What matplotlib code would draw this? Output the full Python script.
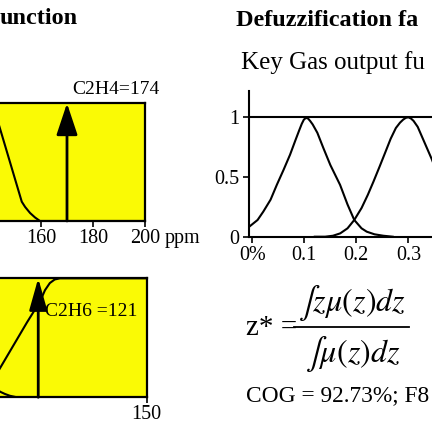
import numpy as np
import matplotlib
matplotlib.use("Agg")
import matplotlib.pyplot as plt
from matplotlib.lines import Line2D

plt.rcParams['font.family'] = ['Liberation Serif', 'DejaVu Serif']
plt.rcParams['mathtext.fontset'] = 'stix'

# input membership curves (ppm, membership)
c2h4_x = [130, 141.3, 144.2, 148.4, 152.6, 153.9, 155.8, 157.7, 159.6, 200]
c2h4_mu = [1, 1, 0.788, 0.476, 0.164, 0.119, 0.068, 0.03, 0.0, 0.0]
c2h4_arrow = 170
c2h4_ticks = [160, 180, 200]

c2h6_rise_x = [106.1, 110.8, 115, 118, 120.9, 122.1, 122.8, 124.1, 125.4, 126.8, 150]
c2h6_rise_mu = [0, 0.246, 0.47, 0.63, 0.776, 0.85, 0.90, 0.96, 0.99, 1.0, 1.0]
c2h6_fall_x = [109.5, 110.8, 112.1, 113.4, 115.3, 150]
c2h6_fall_mu = [0.08, 0.047, 0.028, 0.013, 0.0, 0.0]
c2h6_arrow = 121
c2h6_ticks = [150]

# key gas output membership curves
out1_x = [-0.006, 0.01, 0.021, 0.035, 0.047, 0.06, 0.0725, 0.083, 0.09, 0.095, 0.099, 0.103,
          0.107, 0.111, 0.116, 0.125, 0.1365, 0.15, 0.1687, 0.183, 0.196, 0.21, 0.22, 0.235,
          0.252, 0.27]
out1_y = [0.084, 0.14, 0.21, 0.31, 0.434, 0.56, 0.687, 0.81, 0.89, 0.945, 0.98, 0.995,
          0.99, 0.97, 0.94, 0.87, 0.743, 0.6, 0.434, 0.27, 0.14, 0.07, 0.042, 0.02,
          0.008, 0.0]
out2_x = [0.12, 0.14, 0.155, 0.169, 0.183, 0.196, 0.21, 0.222, 0.233, 0.245, 0.256, 0.266,
          0.276, 0.284, 0.29, 0.295, 0.3, 0.305, 0.31, 0.318, 0.326, 0.336, 0.345, 0.36, 0.38]
out2_y = [0.0, 0.0, 0.008, 0.028, 0.07, 0.14, 0.24, 0.35, 0.462, 0.59, 0.71, 0.82,
          0.91, 0.955, 0.98, 0.995, 1.0, 0.99, 0.97, 0.92, 0.84, 0.74, 0.65, 0.48, 0.27]
out_xticks = [0, 0.1, 0.2, 0.3]
out_xlabels = ['0%', '0.1', '0.2', '0.3']
out_yticks = [0, 0.5, 1]
out_ylabels = ['0', '0.5', '1']

yellow = '#fafa05'
W = 432.0


def fx(px):
    return px / W


def fy(py):
    return 1 - py / W


fig = plt.figure(figsize=(4.32, 4.32), dpi=100)

# top-left: C2H4
ax1 = fig.add_axes([fx(-63), fy(221), fx(208), 117.7 / W])
ax1.set_facecolor(yellow)
ax1.plot(c2h4_x, c2h4_mu, color='black', lw=1.5)
ax1.annotate('', xy=(c2h4_arrow, 1), xytext=(c2h4_arrow, 0),
             arrowprops=dict(arrowstyle='-|>,head_length=1.95,head_width=0.65',
                             mutation_scale=10, lw=2, color='black',
                             shrinkA=0, shrinkB=0))
ax1.set_xlim(120, 200)
ax1.set_ylim(0, 1)
ax1.set_xticks(c2h4_ticks)
ax1.set_xticklabels([str(t) for t in c2h4_ticks])
ax1.set_yticks([])
for s in ax1.spines.values():
    s.set_linewidth(1.6)
ax1.tick_params(axis='x', length=4, width=1.2, labelsize=14.5, pad=1.5)
# unit after the last tick label, same baseline
ax1.annotate('ppm', xy=(200, 0), xycoords='data', xytext=(14, -5.5),
             textcoords='offset points', ha='left', va='top', fontsize=14.5,
             annotation_clip=False)

# bottom-left: C2H6
ax2 = fig.add_axes([fx(-40.3), fy(397.3), fx(187), 119 / W])
ax2.set_facecolor(yellow)
ax2.plot(c2h6_rise_x, c2h6_rise_mu, color='black', lw=1.5)
ax2.plot(c2h6_fall_x, c2h6_fall_mu, color='black', lw=1.5)
ax2.annotate('', xy=(c2h6_arrow, 1), xytext=(c2h6_arrow, 0),
             arrowprops=dict(arrowstyle='-|>,head_length=1.95,head_width=0.55',
                             mutation_scale=10, lw=2, color='black',
                             shrinkA=0, shrinkB=0))
ax2.set_xlim(100, 150)
ax2.set_ylim(0, 1)
ax2.set_xticks(c2h6_ticks)
ax2.set_xticklabels([str(t) for t in c2h6_ticks])
ax2.set_yticks([])
for s in ax2.spines.values():
    s.set_linewidth(1.6)
ax2.tick_params(axis='x', length=4, width=1.2, labelsize=14.5, pad=1.5)

# right: key gas output function
ax3 = fig.add_axes([fx(249), fy(236.7), fx(263.3), 145.7 / W])
ax3.plot(out1_x, out1_y, color='black', lw=1.5)
ax3.plot(out2_x, out2_y, color='black', lw=1.5)
ax3.axhline(1, color='black', lw=1.5)
ax3.set_xlim(-0.0065, 0.5)
ax3.set_ylim(0, 1.22)
ax3.set_xticks(out_xticks)
ax3.set_xticklabels(out_xlabels)
ax3.set_yticks(out_yticks)
ax3.set_yticklabels(out_ylabels)
ax3.spines['top'].set_visible(False)
ax3.spines['right'].set_visible(False)
ax3.spines['left'].set_linewidth(1.5)
ax3.spines['bottom'].set_linewidth(1.5)
ax3.tick_params(length=4, width=1.2, labelsize=14.5, pad=3)

# texts (as far as they are visible in the cropped figure)
fig.text(fx(0), fy(19), 'unction', ha='left', va='center',
         fontsize=17.5, fontweight='bold')
fig.text(fx(236), fy(20), 'Defuzzification fa', ha='left', va='center',
         fontsize=17.5, fontweight='bold')
fig.text(fx(241), fy(63), 'Key Gas output fu', ha='left', va='center',
         fontsize=18)
fig.text(fx(72), fy(89), 'C2H4=174', ha='left', va='center', fontsize=14)
fig.text(fx(45), fy(311), 'C2H6 =121', ha='left', va='center', fontsize=14)

# centre of gravity formula
fig.text(fx(246), fy(328), 'z* =', ha='left', va='center', fontsize=21)
fig.text(fx(352), fy(303), r'$\int z\mu(z)dz$', ha='center', va='center', fontsize=23)
fig.add_artist(Line2D([fx(294), fx(409)], [fy(327), fy(327)], color='black', lw=1.3))
fig.text(fx(353), fy(354), r'$\int \mu(z)dz$', ha='center', va='center', fontsize=23)

fig.text(fx(246), fy(396), 'COG = 92.73%; F8', ha='left', va='center', fontsize=16.8)

fig.savefig('out.png', dpi=100)
